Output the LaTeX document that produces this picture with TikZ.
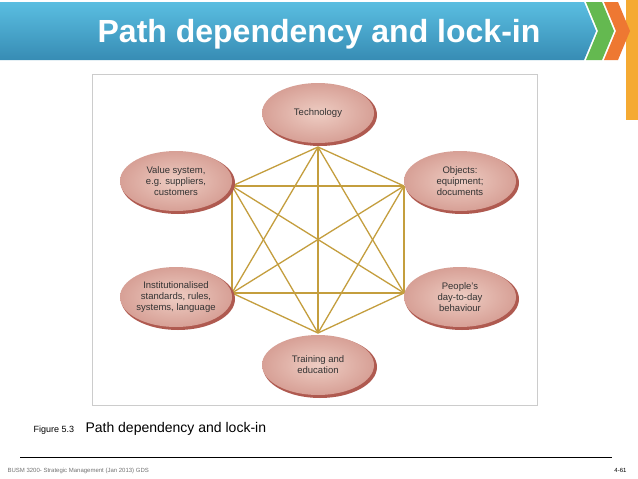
\documentclass[tikz,border=0pt]{standalone}
\usepackage{fontspec}
\setmainfont{Liberation Sans}
\usetikzlibrary{shapes.geometric}
\definecolor{cYel}{RGB}{245,170,50}
\definecolor{cOra}{RGB}{238,120,50}
\definecolor{cGre}{RGB}{100,185,80}
\definecolor{cBlT}{RGB}{90,190,225}
\definecolor{cBlB}{RGB}{55,140,180}
\definecolor{cLink}{RGB}{196,158,62}
\definecolor{cShad}{RGB}{175,90,80}
\definecolor{cIn}{RGB}{238,205,195}
\definecolor{cOut}{RGB}{215,160,150}
\begin{document}
\begin{tikzpicture}[x=1pt,y=-1pt,
 ell/.style={ellipse,minimum width=112pt,minimum height=60pt,inner sep=0pt,align=center,font=\fontsize{9.5}{11}\selectfont,text=black!80},
 link/.style={draw=cLink,line width=1.3pt}]
\useasboundingbox (0,0) rectangle (638,479);
\fill[white] (0,0) rectangle (638,479);
% header
\fill[cYel] (626,0) rectangle (638,120);
\fill[cOra] (604,2) -- (618,2) -- (630,31) -- (618,60) -- (604,60) -- (616,31) -- cycle;
\fill[cGre] (586,2) -- (602,2) -- (614,31) -- (602,60) -- (586,60) -- (598,31) -- cycle;
\shade[top color=cBlT,bottom color=cBlB] (0,2) -- (584,2) -- (596,31) -- (584,60) -- (0,60) -- cycle;
\node[text=white,font=\bfseries\fontsize{32}{34}\selectfont,anchor=center] (title) at (319,34) {Path dependency and lock-in};
% figure box
\draw[black!20,line width=0.8pt] (92,74) rectangle (537,405);
% links
\coordinate (T) at (318,147);
\coordinate (TL) at (232,186);
\coordinate (TR) at (404,186);
\coordinate (BL) at (232,293);
\coordinate (BR) at (404,293);
\coordinate (B) at (318,333);
\foreach \a/\b in {T/TL,T/TR,T/BL,T/BR,T/B,TL/TR,TL/BL,TL/BR,TL/B,TR/BL,TR/BR,TR/B,BL/BR,BL/B,BR/B}
  \draw[link] (\a) -- (\b);
% ellipses
\foreach \n/\x/\y/\t in {tech/318/113/Technology,
  val/176/181/{Value system,\\e.g. suppliers,\\customers},
  obj/460/181/{Objects:\\equipment;\\documents},
  inst/176/297/{Institutionalised\\standards, rules,\\systems, language},
  peo/460/297/{People's\\day-to-day\\behaviour},
  tra/318/365/{Training and\\education}}{
  \fill[cShad] (\x+2,\y+2) ellipse (57pt and 31pt);
  \shade[inner color=cIn,outer color=cOut] (\x,\y) ellipse (56pt and 30pt);
  \node[ell] (\n) at (\x,\y) {\t};
}
% caption
\node[anchor=base west,font=\fontsize{9}{10}\selectfont] (fig) at (30,432) {Figure 5.3};
\node[anchor=base west,font=\fontsize{14}{16}\selectfont] (cap) at (82,432) {Path dependency and lock-in};
\draw[black,line width=0.8pt] (20,457) -- (612,457);
\node[anchor=base west,font=\fontsize{6}{7}\selectfont,text=black!55] (foot) at (4,472) {BUSM 3200- Strategic Management (Jan 2013) GDS};
\node[anchor=base east,font=\fontsize{6}{7}\selectfont] (pg) at (630,472) {4-61};
\end{tikzpicture}
\end{document}
